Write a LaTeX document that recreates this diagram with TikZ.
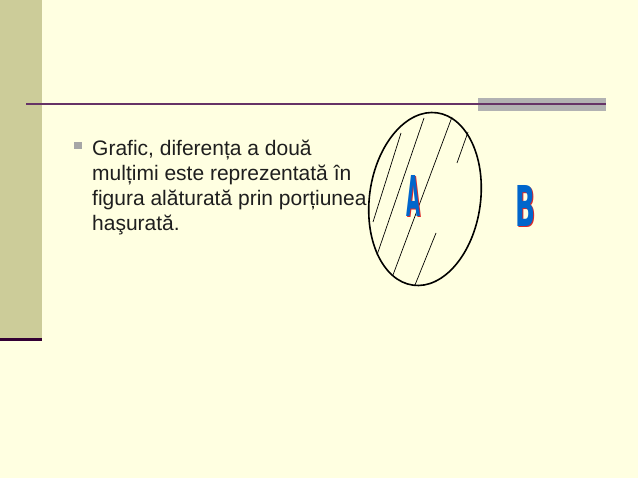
\documentclass[tikz,border=0pt]{standalone}
\usepackage{fontspec}
\setmainfont{Liberation Sans}
\newfontfamily\condfont{DejaVu Sans Condensed}
\definecolor{bgcol}{RGB}{255,255,225}
\definecolor{sidecol}{RGB}{204,204,153}
\definecolor{rulecol}{RGB}{102,51,102}
\definecolor{darkrule}{RGB}{51,0,51}
\definecolor{graybar}{RGB}{178,178,178}
\definecolor{bulletcol}{RGB}{166,166,166}
\definecolor{txtcol}{RGB}{30,30,30}
\definecolor{letterblue}{RGB}{0,102,204}
\definecolor{lettershadow}{RGB}{220,40,40}
\tikzset{
  bodytext/.style={anchor=base west, inner sep=0pt, font=\fontsize{21}{25}\selectfont, text=txtcol},
  hatch/.style={draw=black, line width=0.7pt},
  setline/.style={draw=black, line width=1.6pt},
  bigletter/.style={inner sep=0pt, font=\condfont\bfseries}
}
\begin{document}
\begin{tikzpicture}[x=1pt,y=-1pt]
\useasboundingbox (0,0) rectangle (638,478);
\fill[bgcol] (0,0) rectangle (638,478);
% sidebar
\fill[sidecol] (0,0) rectangle (42,340);
\fill[darkrule] (0,338.5) rectangle (42,341.5);
% top rule with gray bar
\fill[graybar] (478,98) rectangle (606,111);
\coordinate (rs) at (26,104);
\coordinate (re) at (606,104);
\draw[rulecol, line width=2pt] (rs) -- (re);
% bullet
\fill[bulletcol] (74,142) rectangle (81.5,149.5);
% text
\node[bodytext] (t1) at (92,156) {Grafic, diferența a două};
\node[bodytext] (t2) at (92,181) {mulțimi este reprezentată în};
\node[bodytext] (t3) at (92,206) {figura alăturată prin porțiunea};
\node[bodytext] (t4) at (92,231) {haşurată.};
% hatch lines
\draw[hatch] (401,133) -- (373,222);
\draw[hatch] (424,118) -- (377,255);
\draw[hatch] (452,117) -- (393,275);
\draw[hatch] (468,132) -- (457,163);
\draw[hatch] (436,233) -- (415,285);
% ellipse A
\draw[setline, rotate around={-8:(425,199)}] (425,199) ellipse [x radius=55.5, y radius=87];
% letters
\node[bigletter, text=lettershadow, anchor=north west] (Ash) at (406.8,175.8) {\resizebox{14pt}{41pt}{A}};
\node[bigletter, text=letterblue, anchor=north west] (A) at (406,175) {\resizebox{14pt}{41pt}{A}};
\node[bigletter, text=lettershadow, anchor=north west] (Bsh) at (515.8,185.8) {\resizebox{20pt}{41pt}{B}};
\node[bigletter, text=letterblue, anchor=north west] (B) at (515,185) {\resizebox{20pt}{41pt}{B}};
\end{tikzpicture}
\end{document}
